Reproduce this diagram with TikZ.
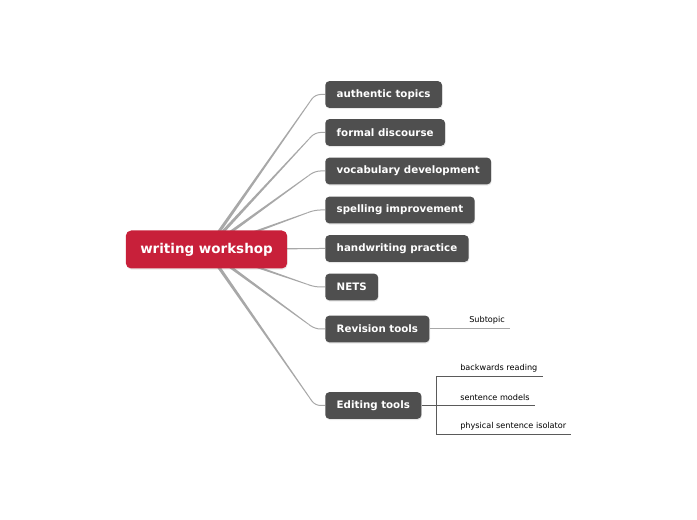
\documentclass[tikz,border=0pt]{standalone}
\usepackage{fontspec}
\setmainfont{DejaVu Sans}
\usetikzlibrary{calc,shadows,backgrounds}
\definecolor{wred}{HTML}{C8203A}
\definecolor{tgray}{HTML}{4F4F4F}
\definecolor{linkc}{HTML}{A8A8A8}
\definecolor{subl}{HTML}{5A5A5A}
\newcommand\branch[1]{%
  \coordinate (K) at ($(#1.west)+(-10,0)$);
  \coordinate (P) at ($(K)!6pt!(ww.center)$);
  \fill[linkc] ($(ww.center)!1.3pt!90:(P)$) -- ($(P)!0.35pt!-90:(ww.center)$) -- ($(P)!0.35pt!90:(ww.center)$) -- ($(ww.center)!1.3pt!-90:(P)$) -- cycle;
  \draw[linkc, line width=0.75pt, rounded corners=4pt] (P) -- (K) -- (#1.west);
}
\begin{document}
\begin{tikzpicture}[x=0.75pt,y=-0.75pt,
  central/.style={fill=wred, rounded corners=4pt, text=white, font=\bfseries\fontsize{10.1}{12}\selectfont, minimum height=28.5pt, minimum width=121pt, inner xsep=10pt, drop shadow={opacity=0.18, shadow xshift=0.4pt, shadow yshift=-0.9pt}},
  topic/.style={fill=tgray, rounded corners=3pt, text=white, font=\bfseries\fontsize{7.7}{10}\selectfont, minimum height=20pt, inner xsep=8.6pt, anchor=west, drop shadow={opacity=0.18, shadow xshift=0.4pt, shadow yshift=-0.9pt}},
  subt/.style={font=\fontsize{6.1}{8}\selectfont, anchor=west, inner sep=0pt, text=black},
  sublink/.style={line width=0.75pt, draw=subl},
  revlink/.style={line width=0.75pt, draw=linkc}
]
\useasboundingbox (0,0) rectangle (697,520);
\node[central] (ww) at (206.5,249.5) {writing workshop};
\node[topic] (t1) at (325,94.5) {authentic topics};
\node[topic] (t2) at (325,132.5) {formal discourse};
\node[topic] (t3) at (325,171) {vocabulary development};
\node[topic] (t4) at (325,210) {spelling improvement};
\node[topic] (t5) at (325,248.5) {handwriting practice};
\node[topic] (t6) at (325,287) {NETS};
\node[topic] (t7) at (325,329) {Revision tools};
\node[topic] (t8) at (325,405.5) {Editing tools};
\node[subt] (s1) at (469,320.5) {Subtopic};
\node[subt] (e1) at (460,368.5) {backwards reading};
\node[subt] (e2) at (460,397.5) {sentence models};
\node[subt] (e3) at (460,426.5) {physical sentence isolator};
\coordinate (s1end) at (510,329);
\coordinate (j1) at (436,376.5);
\coordinate (j2) at (436,405.5);
\coordinate (j3) at (436,434.5);
\coordinate (e1end) at (543,376.5);
\coordinate (e2end) at (535,405.5);
\coordinate (e3end) at (571,434.5);
\begin{pgfonlayer}{background}
\branch{t1}
\branch{t2}
\branch{t3}
\branch{t4}
\branch{t5}
\branch{t6}
\branch{t7}
\branch{t8}
\end{pgfonlayer}
\draw[revlink] (t7.east) -- (s1end);
\draw[sublink] (t8.east) -- (j2);
\draw[sublink] (j1) -- (j3);
\draw[sublink] (j1) -- (e1end);
\draw[sublink] (j2) -- (e2end);
\draw[sublink] (j3) -- (e3end);
\end{tikzpicture}
\end{document}
